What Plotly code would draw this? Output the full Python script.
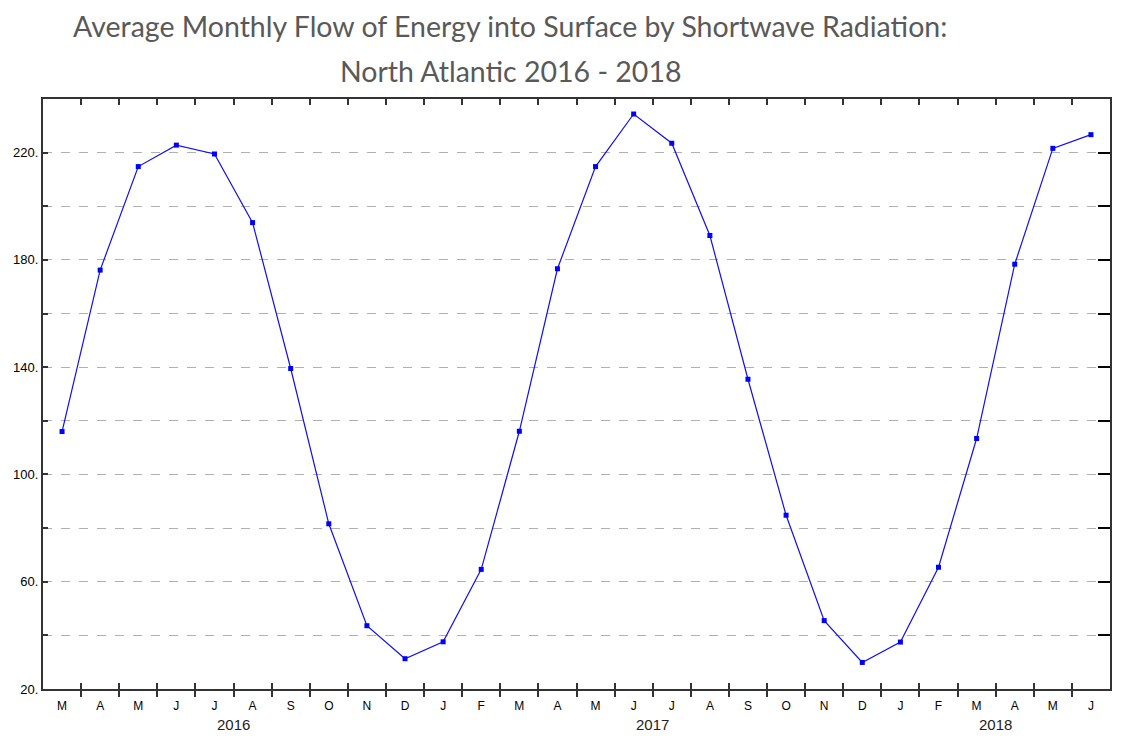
import plotly.graph_objects as go

months = ["M", "A", "M", "J", "J", "A", "S", "O", "N", "D",
          "J", "F", "M", "A", "M", "J", "J", "A", "S", "O", "N", "D",
          "J", "F", "M", "A", "M", "J"]
flow = [116.0, 176.2, 214.8, 222.8, 219.5, 193.9, 139.5, 81.6, 43.6, 31.3,
        37.6, 64.6, 116.1, 176.7, 214.8, 234.4, 223.5, 189.1, 135.5, 84.8, 45.5, 29.9,
        37.5, 65.4, 113.4, 178.4, 221.6, 226.7]
years = ["2016", "2017", "2018"]
year_centers = [4.5, 15.5, 24.5]
y_ticks = [20, 40, 60, 80, 100, 120, 140, 160, 180, 200, 220, 240]
y_labels = ["20.", "", "60.", "", "100.", "", "140.", "", "180.", "", "220.", ""]

idx = list(range(len(months)))
bounds = [i + 0.5 for i in idx[:-1]]
axis_col = "#333333"

fig = go.Figure()
fig.add_trace(go.Scatter(
    x=idx, y=flow, mode="lines+markers",
    line=dict(color="#1010ee", width=1.2),
    marker=dict(symbol="square", size=5, color="#0000ff"),
    showlegend=False))
# invisible trace so the overlay axes get drawn
fig.add_trace(go.Scatter(x=[idx[0]], y=[flow[0]], xaxis="x2", yaxis="y2",
                         mode="markers", marker=dict(opacity=0),
                         showlegend=False, hoverinfo="skip"))

# page body adds 8px, so margins are shifted by that much
fig.update_layout(
    width=1130, height=754,
    margin=dict(l=35, r=28, t=91, b=73, autoexpand=False),
    paper_bgcolor="white", plot_bgcolor="white",
    font=dict(family="Liberation Sans, Arial", size=12, color="black"),
    xaxis=dict(range=[-0.5, len(months) - 0.5], tickvals=idx, ticktext=months,
               ticks="", showgrid=False, zeroline=False, automargin=False,
               showline=True, linecolor=axis_col, linewidth=2, mirror=True,
               tickfont=dict(size=12), ticklabelstandoff=5,
               minor=dict(tickvals=bounds, ticks="outside", ticklen=6,
                          tickcolor=axis_col, tickwidth=1.5, showgrid=False)),
    xaxis2=dict(overlaying="x", matches="x", side="bottom",
                tickvals=bounds, ticktext=[""] * len(bounds),
                ticks="inside", ticklen=6, tickcolor=axis_col, tickwidth=1.5,
                mirror="ticks", showline=False, showgrid=False, zeroline=False,
                showticklabels=False, automargin=False),
    yaxis=dict(range=[20, 240], tickvals=y_ticks, ticktext=y_labels,
               ticks="inside", ticklen=5, tickcolor=axis_col, tickwidth=1.5,
               showgrid=True, gridcolor="#b0b0b0", griddash="dash", gridwidth=1,
               zeroline=False, showline=True, linecolor=axis_col, linewidth=2,
               mirror=True, tickfont=dict(size=13), automargin=False),
    yaxis2=dict(overlaying="y", matches="y", side="right",
                tickvals=y_ticks, ticks="inside", ticklen=12, tickcolor="black",
                tickwidth=1.5, showticklabels=False, showgrid=False,
                zeroline=False, showline=False, automargin=False),
)

for yr, xc in zip(years, year_centers):
    fig.add_annotation(x=xc, xref="x", y=-0.06, yref="paper", text=yr,
                       showarrow=False, yanchor="middle",
                       font=dict(family="Liberation Sans, Arial", size=15, color="#222"))

title_font = dict(family="Lato", size=28.5, color="#595959")
fig.add_annotation(x=0.4377, xref="paper", y=1.1240, yref="paper",
                   text="Average Monthly Flow of Energy into Surface by Shortwave Radiation:",
                   showarrow=False, xanchor="center", yanchor="middle", font=title_font)
fig.add_annotation(x=0.4377, xref="paper", y=1.0480, yref="paper",
                   text="North Atlantic 2016 - 2018",
                   showarrow=False, xanchor="center", yanchor="middle", font=title_font)

fig.write_html("out.html")
